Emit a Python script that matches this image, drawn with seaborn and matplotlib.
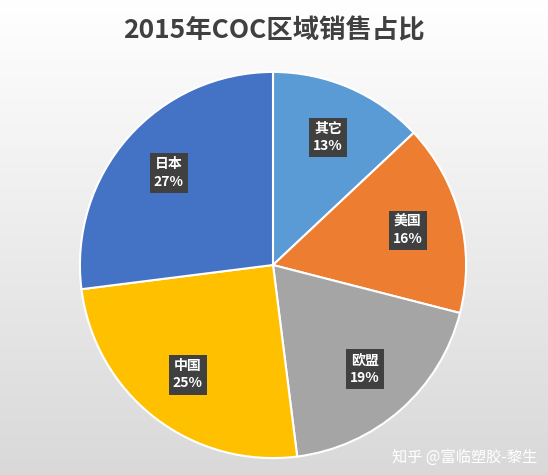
import matplotlib
matplotlib.use("Agg")
import matplotlib.pyplot as plt
import seaborn as sns
import numpy as np

sns.set_theme(style="white")
plt.rcParams['font.family'] = ['Noto Sans CJK SC', 'DejaVu Sans']

regions = ["其它", "美国", "欧盟", "中国", "日本"]
shares = [13, 16, 19, 25, 27]
colors = ["#5B9BD5", "#ED7D31", "#A5A5A5", "#FFC000", "#4472C4"]

fig = plt.figure(figsize=(5.48, 4.75), dpi=100)
bg = fig.add_axes([0, 0, 1, 1], zorder=-1)
grad = np.linspace(1.0, 0.85, 475).reshape(-1, 1) * np.ones((1, 548))
bg.imshow(np.dstack([grad, grad, grad]), aspect="auto", extent=[0, 1, 0, 1])
bg.axis("off")

ax = fig.add_axes([(273-195)/548, (475-265-195)/475, 390/548, 390/475])
ax.set_facecolor("none")

labels_iter = iter(regions)
def fmt(p):
    return f"{next(labels_iter)}\n{p:.0f}%"

wedges, texts, autotexts = ax.pie(shares, colors=colors, startangle=90, counterclock=False,
                                  autopct=fmt, pctdistance=0.72,
                                  wedgeprops=dict(edgecolor="white", linewidth=1.5),
                                  textprops=dict(color="white", fontsize=10, fontweight="bold",
                                                 ha="center", linespacing=1.3))
for t in autotexts:
    t.set_bbox(dict(boxstyle="square,pad=0.3", fc="#404040", ec="none"))
ax.set_xlim(-1.01, 1.01)
ax.set_ylim(-1.01, 1.01)
ax.set_aspect("equal")

fig.text(0.5, 0.935, "2015年COC区域销售占比", ha="center", va="center",
         fontsize=19, fontweight="bold", color="#404040")
fig.text(0.98, 0.02, "知乎 @富临塑胶-黎生", ha="right", va="bottom",
         fontsize=11, color="white")

fig.savefig("out.png", dpi=100)
